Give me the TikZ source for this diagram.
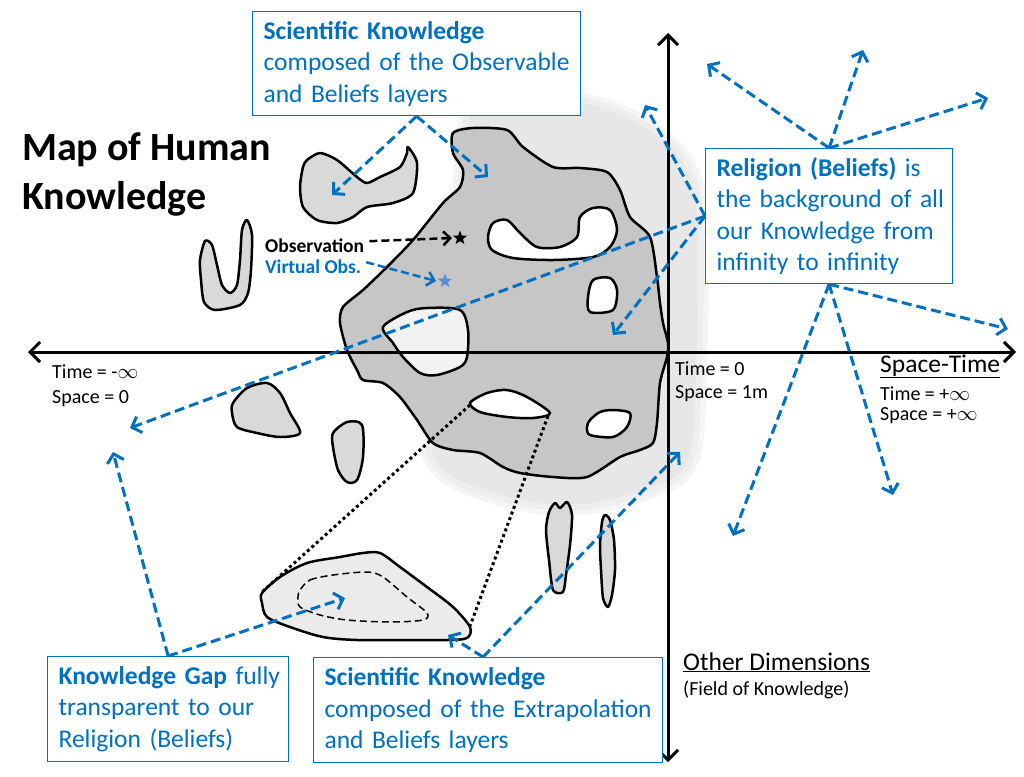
\documentclass[tikz,border=0pt]{standalone}
\usepackage{fontspec}
\setmainfont{Carlito}
\usetikzlibrary{arrows.meta,shapes.geometric,positioning}
\definecolor{kblue}{HTML}{0070C0}
\definecolor{vblue}{HTML}{5B8CD4}
\definecolor{blobgray}{HTML}{C6C6C6}
\definecolor{islegray}{HTML}{D9D9D9}
\definecolor{gapgray}{HTML}{EBEBEB}
\definecolor{holegray}{HTML}{F2F2F2}

\begin{document}
\begin{tikzpicture}[x=1pt,y=-1pt,
					infobox/.style={rectangle,
					draw=kblue,
					fill=white,
					line width=1.2pt,
					text=kblue,
					align=left,
					anchor=north west,
					inner xsep=11pt,
					inner ysep=0pt,
					font=\fontsize{25.5}{31.5}\selectfont},
					blob/.style={draw=black,
					line width=2.5pt,
					line join=round},
					beliefarrow/.style={kblue,
					line width=3pt,
					dash pattern=on 10pt off 5pt,
					-{Straight Barb[length=8pt,width=17pt]}},
					axis/.style={black,
					line width=3pt,
					{Straight Barb[length=10pt,width=20pt]}-{Straight Barb[length=10pt,width=20pt]}},
					axislabel/.style={anchor=base west,
					inner sep=0pt,
					font=\fontsize{20}{25}\selectfont},
					axistitle/.style={anchor=base west,
					inner sep=0pt,
					font=\fontsize{25.5}{31.5}\selectfont}
					]

% fixed page size, same as the picture
\useasboundingbox (0,0) rectangle (1024,776);

%shadow of the known region
\foreach \w/\c in {22/8,12/13}
	\draw[gray!\c, line width=\w pt, line join=round] plot[smooth cycle] coordinates
	{(470,118) (490,106) (530,100) (585,104) (635,122) (675,152) (694,190) (698,250) (697,330) (695,400) (691,450) (676,476) (638,492) (590,503) (540,503) (490,492) (449,474) (432,452) (440,420) (450,300) (462,200)};
\fill[gray!19] plot[smooth cycle] coordinates
	{(470,118) (490,106) (530,100) (585,104) (635,122) (675,152) (694,190) (698,250) (697,330) (695,400) (691,450) (676,476) (638,492) (590,503) (540,503) (490,492) (449,474) (432,452) (440,420) (450,300) (462,200)};

%main knowledge blob
\draw[blob, fill=blobgray] plot[smooth cycle, tension=0.45] coordinates
	{(453,133) (473,128) (507,130) (523,147) (553,167) (580,168) (607,172) (620,190) (630,217) (650,237) (657,277) (660,303) (663,323) (668,343) (667,357) (660,383) (657,423) (653,443) (640,450) (620,457) (587,477) (553,477) (520,473) (503,467) (480,453) (453,450) (433,443) (417,420) (400,397) (383,383) (363,380) (357,370) (347,350) (340,323) (343,307) (363,290) (387,267) (413,240) (443,203) (460,187) (463,170) (453,153)};

%holes
\draw[blob, fill=white] plot[smooth cycle, tension=0.5] coordinates
	{(493,223) (507,220) (520,233) (537,247) (560,247) (577,237) (580,217) (593,208) (610,210) (617,230) (610,247) (593,257) (553,260) (513,258) (492,250) (488,237)};
\draw[blob, fill=white] plot[smooth cycle, tension=0.5] coordinates
	{(593,280) (610,278) (617,290) (613,310) (590,312) (588,297)};
\draw[blob, fill=holegray] plot[smooth cycle, tension=0.5] coordinates
	{(383,327) (407,312) (427,308) (460,310) (468,330) (467,357) (460,367) (437,375) (420,373) (403,357) (393,343)};
\draw[blob, fill=white] plot[smooth cycle, tension=0.5] coordinates
	{(470,403) (487,393) (507,390) (527,397) (550,413) (533,418) (507,417) (480,412)};
\draw[blob, fill=white] plot[smooth cycle, tension=0.5] coordinates
	{(590,420) (600,412) (613,410) (630,413) (627,427) (613,437) (590,435) (587,427)};

%islands
\draw[blob, fill=islegray] plot[smooth cycle, tension=0.45] coordinates
	{(307,160) (320,153) (337,160) (357,177) (367,183) (380,177) (400,167) (407,153) (408,147) (417,163) (413,193) (393,203) (367,207) (353,217) (337,223) (317,220) (303,207) (300,187) (303,167)};
\draw[blob, fill=islegray] plot[smooth cycle, tension=0.45] coordinates
	{(205,241) (212,245) (217,265) (222,285) (230,293) (237,285) (240,260) (242,230) (247,220) (252,235) (251,270) (248,293) (240,305) (215,310) (204,302) (201,280) (200,260)};
\draw[blob, fill=islegray] plot[smooth cycle, tension=0.5] coordinates
	{(233,403) (247,388) (267,383) (280,393) (290,413) (300,433) (280,437) (257,433) (237,427) (232,413)};
\draw[blob, fill=islegray] plot[smooth cycle, tension=0.5] coordinates
	{(333,433) (347,422) (362,425) (363,457) (357,480) (347,482) (338,470) (333,447)};
\draw[blob, fill=islegray] plot[smooth cycle, tension=0.45] coordinates
	{(549,512) (555,503) (560,508) (567,502) (572,515) (570,545) (566,575) (563,592) (553,590) (549,560) (546,530)};
\draw[blob, fill=islegray] plot[smooth cycle, tension=0.45] coordinates
	{(602,522) (605,515) (610,520) (614,540) (615,570) (612,595) (608,607) (603,598) (601,570) (600,545)};

%knowledge gap blob
\draw[blob, fill=gapgray] plot[smooth cycle, tension=0.5] coordinates
	{(262,593) (280,577) (307,563) (340,557) (363,553) (380,553) (400,567) (427,587) (453,607) (470,627) (467,638) (447,640) (407,640) (357,640) (323,637) (290,627) (267,617) (262,603)};
\draw[black, line width=1.5pt, dash pattern=on 7pt off 4pt] plot[smooth cycle, tension=0.5] coordinates
	{(300,590) (310,580) (333,575) (367,572) (383,577) (407,597) (427,613) (423,620) (390,622) (347,620) (320,615) (300,607) (298,597)};

%zoom lines from the hole to the gap
\coordinate (holeL) at (470,405);
\coordinate (holeR) at (548,416);
\coordinate (gapL) at (262,592);
\coordinate (gapR) at (470,626);
\draw[black, line width=3pt, dash pattern=on 3pt off 3pt] (holeL) -- (gapL);
\draw[black, line width=3pt, dash pattern=on 3pt off 3pt] (holeR) -- (gapR);

%axes
\coordinate (axW) at (28,352);
\coordinate (axE) at (1016,352);
\coordinate (axN) at (668,33);
\coordinate (axS) at (668,762);
\draw[axis] (axW) -- (axE);
\draw[axis] (axN) -- (axS);

%axis labels
\node[axislabel] (tMinus) at (52,378) {Time = -$\infty$};
\node[axislabel] (sZero) at (52,403) {Space = 0};
\node[axislabel] (tZero) at (675,375) {Time = 0};
\node[axislabel] (sOne) at (675,398) {Space = 1m};
\node[axistitle] (spaceTime) at (880,372) {\underline{Space-Time}};
\node[axislabel] (tPlus) at (880,400) {Time = +$\infty$};
\node[axislabel] (sPlus) at (880,420) {Space = +$\infty$};
\node[axistitle] (otherDim) at (683,670) {\underline{Other Dimensions}};
\node[axislabel] (field) at (683,695) {(Field of Knowledge)};

%title
\node[anchor=north west, inner sep=0pt, align=left, font=\bfseries\fontsize{40}{49}\selectfont] (title) at (22,133) {Map of Human\\Knowledge};

%observations
\node[star, star points=5, star point ratio=2.4, fill=black, inner sep=0pt, minimum size=15pt] (obsStar) at (460,238) {};
\node[star, star points=5, star point ratio=2.4, fill=vblue, inner sep=0pt, minimum size=15pt] (virtStar) at (445,281) {};
\node[anchor=base west, inner sep=0pt, font=\bfseries\fontsize{19.5}{24}\selectfont] (obs) at (265,252) {Observation};
\node[anchor=base west, inner sep=0pt, text=kblue, font=\bfseries\fontsize{19.5}{24}\selectfont] (virt) at (265,273) {Virtual Obs.};
\draw[black, line width=2.5pt, dash pattern=on 8pt off 4pt, -{Straight Barb[length=7pt,width=14pt]}] ([xshift=5pt,yshift=4pt]obs.east) -- ([xshift=-8pt]obsStar.center);
\draw[kblue, line width=2.5pt, dash pattern=on 8pt off 4pt, -{Straight Barb[length=7pt,width=14pt]}] ([xshift=5pt,yshift=4pt]virt.east) -- ([xshift=-9pt]virtStar.center);

%text boxes
\node[infobox, text width=306pt, minimum height=104pt] (sciTop) at (252,11) {\mbox{\bfseries Scientific Knowledge}\\\mbox{composed of the Observable}\\\mbox{and Beliefs layers}};
\node[infobox, text width=225pt, minimum height=135pt] (relig) at (705,148) {\mbox{{\bfseries Religion (Beliefs)} is}\\\mbox{the background of all}\\\mbox{our Knowledge from}\\\mbox{infinity to infinity}};
\node[infobox, text width=219pt, minimum height=105pt] (gapBox) at (47,656) {\mbox{{\bfseries Knowledge Gap} fully}\\\mbox{transparent to our}\\\mbox{Religion (Beliefs)}};
\node[infobox, text width=327pt, minimum height=105pt] (sciBot) at (313,657) {\mbox{\bfseries Scientific Knowledge}\\\mbox{composed of the Extrapolation}\\\mbox{and Beliefs layers}};

%arrow ends
\coordinate (islandTip) at (332,195);
\coordinate (blobTip) at (488,177);
\coordinate (upLeft) at (707,64);
\coordinate (up) at (863,50);
\coordinate (upRight) at (988,98);
\coordinate (farUp) at (645,105);
\coordinate (inBlob) at (613,335);
\coordinate (farLeft) at (130,428);
\coordinate (right) at (1008,329);
\coordinate (downRight) at (893,495);
\coordinate (downLeft) at (733,536);
\coordinate (gapUp) at (113,452);
\coordinate (gapIn) at (345,598);
\coordinate (gapEdge) at (448,635);
\coordinate (axisTip) at (680,452);

%belief arrows
\draw[beliefarrow] (sciTop.south) -- (islandTip);
\draw[beliefarrow] (sciTop.south) -- (blobTip);
\draw[beliefarrow] (relig.north) -- (upLeft);
\draw[beliefarrow] (relig.north) -- (up);
\draw[beliefarrow] (relig.north) -- (upRight);
\draw[beliefarrow] (relig.west) -- (farUp);
\draw[beliefarrow] (relig.west) -- (inBlob);
\draw[beliefarrow] (relig.west) -- (farLeft);
\draw[beliefarrow] (relig.south) -- (right);
\draw[beliefarrow] (relig.south) -- (downRight);
\draw[beliefarrow] (relig.south) -- (downLeft);
\draw[beliefarrow] (gapBox.north) -- (gapUp);
\draw[beliefarrow] (gapBox.north) -- (gapIn);
\draw[beliefarrow] ([xshift=-5pt]sciBot.north) -- (gapEdge);
\draw[beliefarrow] ([xshift=-5pt]sciBot.north) -- (axisTip);
\end{tikzpicture}
\end{document}
